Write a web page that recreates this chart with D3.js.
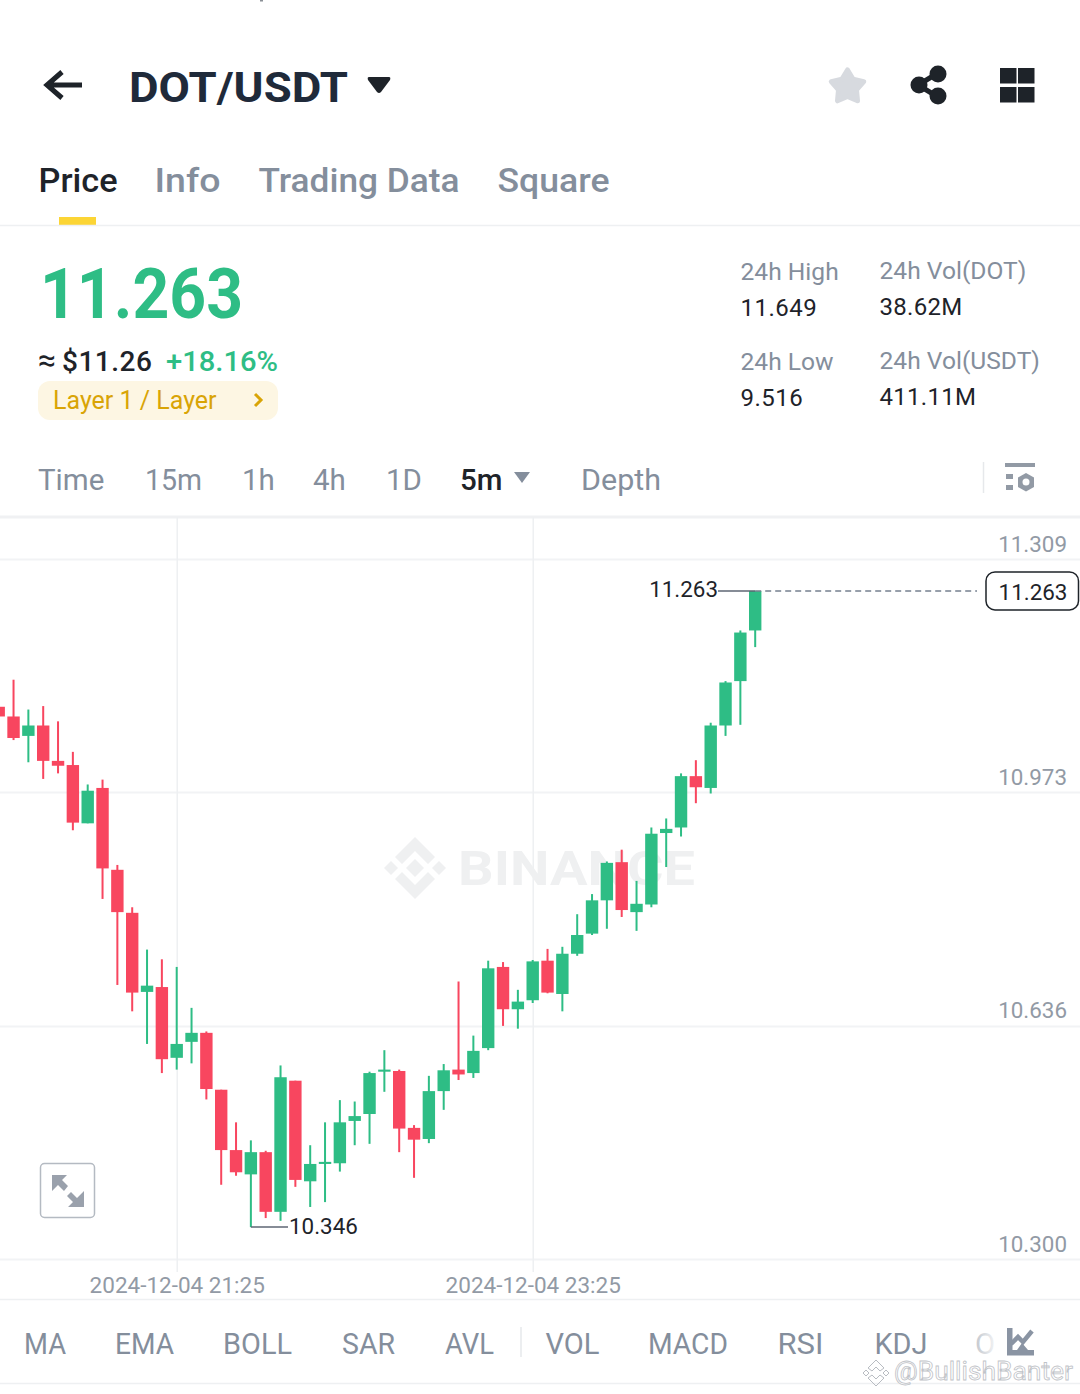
<!DOCTYPE html>
<html>
<head>
<meta charset="utf-8">
<script src="https://cdn.jsdelivr.net/npm/d3@7"></script>
<style>
  html, body { margin: 0; padding: 0; background: #fff; }
  svg { display: block; }
</style>
</head>
<body>
<svg></svg>
<script>
const width = 1080;
const height = 1394;

// DATA - 5m candles, first one opens 2024-12-04 20:25
const firstCandle = new Date(2024, 11, 4, 20, 25);
const opens = [
  11.096, 11.082, 11.054, 11.069, 11.018, 11.012, 10.928, 10.979, 10.861, 10.799, 10.685, 10.692, 10.590,
  10.613, 10.626, 10.544, 10.457, 10.422, 10.454, 10.368, 10.557, 10.412, 10.437, 10.438, 10.499, 10.509,
  10.570, 10.571, 10.489, 10.473, 10.542, 10.573, 10.568, 10.604, 10.721, 10.660, 10.673, 10.730, 10.682,
  10.740, 10.769, 10.817, 10.872, 10.800, 10.811, 10.914, 10.922, 10.996, 10.979, 11.069, 11.133, 11.206
];
const closes = [
  11.082, 11.051, 11.069, 11.018, 11.011, 10.929, 10.975, 10.863, 10.800, 10.684, 10.694, 10.588, 10.610,
  10.626, 10.545, 10.457, 10.425, 10.454, 10.368, 10.562, 10.414, 10.437, 10.440, 10.497, 10.506, 10.568,
  10.573, 10.488, 10.472, 10.542, 10.572, 10.566, 10.600, 10.719, 10.660, 10.671, 10.729, 10.684, 10.740,
  10.767, 10.817, 10.871, 10.803, 10.812, 10.913, 10.920, 10.996, 10.980, 11.069, 11.131, 11.203, 11.263
];
const highs = [
  11.096, 11.135, 11.092, 11.097, 11.075, 11.031, 10.984, 10.991, 10.868, 10.807, 10.746, 10.732, 10.721,
  10.662, 10.628, 10.544, 10.497, 10.471, 10.456, 10.579, 10.557, 10.464, 10.497, 10.529, 10.527, 10.570,
  10.601, 10.573, 10.493, 10.564, 10.581, 10.700, 10.622, 10.730, 10.728, 10.688, 10.731, 10.747, 10.750,
  10.797, 10.826, 10.873, 10.890, 10.845, 10.922, 10.935, 11.000, 11.019, 11.073, 11.133, 11.206, 11.263
];
const lows = [
  11.082, 11.048, 11.016, 10.992, 11.000, 10.918, 10.928, 10.819, 10.695, 10.657, 10.610, 10.568, 10.573,
  10.582, 10.530, 10.407, 10.420, 10.346, 10.359, 10.355, 10.404, 10.375, 10.382, 10.426, 10.464, 10.466,
  10.541, 10.454, 10.417, 10.467, 10.515, 10.558, 10.561, 10.601, 10.636, 10.632, 10.669, 10.683, 10.657,
  10.737, 10.767, 10.776, 10.793, 10.773, 10.807, 10.865, 10.909, 10.957, 10.971, 11.054, 11.070, 11.182
];
const priceTicks = [10.300, 10.636, 10.973, 11.309];
const timeTicks = [new Date(2024, 11, 4, 21, 25), new Date(2024, 11, 4, 23, 25)];
const lastPrice = 11.263;
const lowestPrice = 10.346;

const pageTabs = ['Price', 'Info', 'Trading Data', 'Square'];
const periods = ['Time', '15m', '1h', '4h', '1D', '5m', 'Depth'];
const indicators = ['MA', 'EMA', 'BOLL', 'SAR', 'AVL', 'VOL', 'MACD', 'RSI', 'KDJ'];

const candles = opens.map((open, i) => ({
  time: d3.timeMinute.offset(firstCandle, i * 5),
  open, close: closes[i], high: highs[i], low: lows[i]
}));

// COLOURS
const green = '#2EBD85';
const red = '#F8465F';
const ink = '#1E2329';
const navy = '#1F2A3A';
const slate = '#848E9C';
const axisGrey = '#929AA5';
const gridGrey = '#F2F3F5';
const FONT = 'Roboto, sans-serif';

const svg = d3.select('svg').attr('width', width).attr('height', height)
  .attr('font-family', FONT);

function label(text, x, y, size, fill, opts = {}) {
  const t = svg.append('text')
    .attr('x', x).attr('y', y)
    .attr('font-size', size)
    .attr('fill', fill)
    .attr('font-weight', opts.weight || 400)
    .attr('text-anchor', opts.anchor || 'start')
    .attr('letter-spacing', opts.spacing || 0)
    .text(text);
  if (opts.length) t.attr('textLength', opts.length).attr('lengthAdjust', 'spacingAndGlyphs');
  return t;
}

function rule(x1, y1, x2, y2, color, w) {
  return svg.append('line')
    .attr('x1', x1).attr('y1', y1).attr('x2', x2).attr('y2', y2)
    .attr('stroke', color).attr('stroke-width', w);
}

// HEADER
svg.append('rect').attr('x', 260).attr('y', 0).attr('width', 3).attr('height', 1.5).attr('fill', '#8A8F96');
svg.append('path')
  .attr('d', 'M82 85H48M62 72L47 85L62 98')
  .attr('fill', 'none').attr('stroke', ink).attr('stroke-width', 5);
label('DOT/USDT', 129, 102, 43, navy, { weight: 700, length: 219 });
svg.append('path')
  .attr('d', 'M369 77H389Q391 77 390 80L381 92Q379 94 377 92L368 80Q367 77 369 77Z')
  .attr('fill', ink);

svg.append('path')
  .attr('d', 'M0 -17L5.6 -7.7L16.2 -5.3L9 2.9L10 13.8L0 9.5L-10 13.8L-9 2.9L-16.2 -5.3L-5.6 -7.7Z')
  .attr('transform', 'translate(847.5,87)')
  .attr('fill', '#D7DADF').attr('stroke', '#D7DADF').attr('stroke-width', 5)
  .attr('stroke-linejoin', 'round');

svg.append('path')
  .attr('d', 'M938 73L918 85L938 97')
  .attr('fill', 'none').attr('stroke', ink).attr('stroke-width', 5);
[[919, 85], [938, 74], [938, 96]].forEach(([cx, cy]) => {
  svg.append('circle').attr('cx', cx).attr('cy', cy).attr('r', 8.5).attr('fill', ink);
});

[[1000, 68], [1018, 68], [1000, 87], [1018, 87]].forEach(([rx, ry]) => {
  svg.append('rect').attr('x', rx).attr('y', ry).attr('width', 16.5).attr('height', 15.5).attr('fill', ink);
});

// PAGE TABS
const tabX = [38.5, 154.5, 258.5, 497.5];
const tabW = [79, 66, 201, 112];
pageTabs.forEach((t, i) => {
  label(t, tabX[i], 192, 34, i === 0 ? ink : slate, { weight: 500, length: tabW[i] });
});
svg.append('rect').attr('x', 59).attr('y', 217).attr('width', 37).attr('height', 8).attr('fill', '#FCD535');
rule(0, 225.5, width, 225.5, '#EEF0F2', 1.5);

// PRICE BLOCK
label('11.263', 40, 318, 70, green, { weight: 700, length: 203 });
label('≈', 38, 371, 32, ink);
label('$11.26', 62, 371, 28, ink, { weight: 500, spacing: 0.5 });
label('+18.16%', 166, 371, 28, green, { weight: 500, length: 112 });
svg.append('rect')
  .attr('x', 38).attr('y', 381).attr('width', 240).attr('height', 39).attr('rx', 12)
  .attr('fill', '#FDF6E3');
label('Layer 1 / Layer', 53, 409, 25, '#D9A406');
svg.append('path')
  .attr('d', 'M255 394L261 400L255 406')
  .attr('fill', 'none').attr('stroke', '#D9A406').attr('stroke-width', 3);

// 24H STATS
label('24h High', 740.5, 280, 24.6, slate);
label('11.649', 740.5, 315.5, 24, ink, { spacing: 0.5 });
label('24h Low', 740.5, 370, 24.6, slate);
label('9.516', 740.5, 405.5, 24, ink, { spacing: 0.5 });
label('24h Vol(DOT)', 879.5, 279, 24.6, slate);
label('38.62M', 879.5, 314.5, 24, ink, { spacing: 0.3 });
label('24h Vol(USDT)', 879.5, 369, 24.6, slate);
label('411.11M', 879.5, 404.5, 24, ink, { spacing: 0.3 });

// PERIOD ROW
const periodX = [38, 145, 242, 313, 386, 460, 581];
periods.forEach((p, i) => {
  label(p, periodX[i], 490, 29.5, p === '5m' ? ink : slate, {
    weight: p === '5m' ? 500 : 400,
    length: p === 'Depth' ? 80 : p === '15m' ? 57 : 0
  });
});
svg.append('path').attr('d', 'M514 472H530L522 483Z').attr('fill', slate);
rule(983.5, 462, 983.5, 493, '#E6E8EB', 1.5);
rule(1005, 465, 1035, 465, axisGrey, 4);
svg.append('rect').attr('x', 1006).attr('y', 474).attr('width', 7).attr('height', 5).attr('fill', axisGrey);
svg.append('rect').attr('x', 1006).attr('y', 485).attr('width', 7).attr('height', 5).attr('fill', axisGrey);
svg.append('path')
  .attr('d', 'M1026 473L1034 477.5V487L1026 491.5L1018 487V477.5Z')
  .attr('fill', axisGrey);
svg.append('circle').attr('cx', 1026).attr('cy', 482).attr('r', 3.5).attr('fill', '#fff');
rule(0, 517, width, 517, '#F0F1F3', 3);

// SCALES
const xScale = d3.scaleTime()
  .domain(timeTicks)
  .range([176.7, 532.7]);
const yScale = d3.scaleLinear()
  .domain([priceTicks[0], priceTicks[3]])
  .range([1259, 559]);

// AXES & GRIDS
const xGrid = d3.axisBottom(xScale).tickValues(timeTicks)
  .tickSize(-755).tickSizeOuter(0)
  .tickPadding(5)
  .tickFormat(d3.timeFormat('%Y-%m-%d %H:%M'));
const yGrid = d3.axisLeft(yScale).tickValues(priceTicks)
  .tickSize(-width).tickSizeOuter(0).tickFormat('');
const yLabels = d3.axisLeft(yScale).tickValues(priceTicks)
  .tickSize(0).tickSizeOuter(0).tickPadding(0)
  .tickFormat(d3.format('.3f'));

svg.append('g').call(yGrid)
  .call(g => g.select('.domain').remove())
  .call(g => g.selectAll('.tick line').attr('stroke', gridGrey).attr('stroke-width', 2));

const xAxisG = svg.append('g')
  .attr('transform', 'translate(0,1272)')
  .call(xGrid)
  .call(g => g.select('.domain').remove())
  .call(g => g.selectAll('.tick line').attr('stroke', '#EEF0F2').attr('stroke-width', 1.5));
xAxisG.selectAll('text')
  .attr('fill', axisGrey).attr('font-size', 22.5).attr('font-family', FONT);

svg.append('g')
  .attr('transform', 'translate(1067,0)')
  .call(yLabels)
  .call(g => g.select('.domain').remove())
  .call(g => g.selectAll('text')
    .attr('fill', axisGrey).attr('font-size', 22.4).attr('font-family', FONT).attr('dy', -8));

rule(0, 1299.5, width, 1299.5, '#EEF0F2', 1.5);
rule(0, 1383.5, width, 1383.5, '#EEF0F2', 1.5);

// WATERMARK
const markColor = '#EFF0F1';
const logo = svg.append('g').attr('transform', 'translate(415,868)').attr('fill', markColor);
logo.append('path').attr('d', 'M0 -31L20 -11L13 -4L0 -17L-13 -4L-20 -11Z');
logo.append('path').attr('d', 'M0 31L20 11L13 4L0 17L-13 4L-20 11Z');
logo.append('path').attr('d', 'M0 -9L9 0L0 9L-9 0Z');
logo.append('path').attr('d', 'M-31 0L-24 -7L-17 0L-24 7Z');
logo.append('path').attr('d', 'M31 0L24 -7L17 0L24 7Z');
label('BINANCE', 458, 885, 49, markColor, { weight: 700, length: 237 });

// CANDLES
const bodyWidth = 12.4;
const isUp = d => d.close >= d.open;
const candleG = svg.append('g').selectAll('g')
  .data(candles)
  .enter()
  .append('g')
  .attr('fill', d => isUp(d) ? green : red);
candleG.append('rect')
  .attr('x', d => xScale(d.time) - 1)
  .attr('width', 2)
  .attr('y', d => yScale(d.high))
  .attr('height', d => yScale(d.low) - yScale(d.high));
candleG.append('rect')
  .attr('x', d => xScale(d.time) - bodyWidth / 2)
  .attr('width', bodyWidth)
  .attr('y', d => yScale(Math.max(d.open, d.close)))
  .attr('height', d => Math.max(yScale(Math.min(d.open, d.close)) - yScale(Math.max(d.open, d.close)), 2));

// PRICE MARKERS
const lastCandle = candles[candles.length - 1];
const lowCandle = candles.find(d => d.low === lowestPrice);
const lastY = yScale(lastPrice);
const lowY = yScale(lowestPrice);
const lastX = xScale(lastCandle.time);
const lowX = xScale(lowCandle.time);

rule(718, lastY, lastX, lastY, '#5E6673', 1.5);
label(d3.format('.3f')(lastPrice), 718, lastY + 6, 22.4, ink, { anchor: 'end' });
rule(lastX, lastY, 977, lastY, '#76808F', 1.5).attr('stroke-dasharray', '6 4');
svg.append('rect')
  .attr('x', 986).attr('y', lastY - 19).attr('width', 92.5).attr('height', 38).attr('rx', 9)
  .attr('fill', '#fff').attr('stroke', ink).attr('stroke-width', 1.5);
label(d3.format('.3f')(lastPrice), 1033, lastY + 9, 22.4, ink, { anchor: 'middle' });

rule(lowX, lowY, 288, lowY, '#5E6673', 1.5);
label(d3.format('.3f')(lowestPrice), 289, lowY + 7, 22.4, ink);

// EXPAND BUTTON
svg.append('rect')
  .attr('x', 40.5).attr('y', 1163.5).attr('width', 54).attr('height', 54).attr('rx', 4)
  .attr('fill', '#fff').attr('stroke', '#B4BAC2').attr('stroke-width', 1.5);
svg.append('path')
  .attr('d', 'M52 1175H67L62 1180L68 1186L64 1191L58 1185L52 1191Z')
  .attr('fill', '#9AA1AC');
svg.append('path')
  .attr('d', 'M84 1207H68L73 1202L67 1196L71 1192L77 1198L84 1191Z')
  .attr('fill', '#9AA1AC');

// INDICATOR ROW
const indicatorX = [24, 115, 223, 342, 445, 545.5, 648, 777.5, 874.5];
const indicatorW = [42, 59, 69, 53, 49, 54, 80, 46, 53];
indicators.forEach((t, i) => {
  label(t, indicatorX[i], 1354, 29.3, slate, { length: indicatorW[i] });
});
rule(521, 1327, 521, 1357, '#E6E8EB', 1.5);

const fade = svg.append('defs').append('linearGradient').attr('id', 'fade');
fade.append('stop').attr('offset', '0%').attr('stop-color', slate).attr('stop-opacity', 0.5);
fade.append('stop').attr('offset', '100%').attr('stop-color', slate).attr('stop-opacity', 0.1);
label('O', 975, 1354, 29.3, 'url(#fade)');

svg.append('path')
  .attr('d', 'M1007 1328H1012.5V1350H1034V1355.5H1007Z M1017 1350L1022 1343L1028 1350Z')
  .attr('fill', '#8A94A3');
svg.append('path')
  .attr('d', 'M1011 1344L1018 1337L1023 1342L1032 1331')
  .attr('fill', 'none').attr('stroke', '#8A94A3').attr('stroke-width', 4.5);

// AUTHOR TAG
const tag = svg.append('g')
  .attr('transform', 'translate(876,1373)')
  .attr('fill', 'none').attr('stroke', '#B8BCC2').attr('stroke-width', 1);
tag.append('path').attr('d', 'M0 -13L8 -5L4 -2L0 -6L-4 -2L-8 -5Z');
tag.append('path').attr('d', 'M0 13L8 5L4 2L0 6L-4 2L-8 5Z');
tag.append('path').attr('d', 'M-13 0L-10 -3L-7 0L-10 3Z');
tag.append('path').attr('d', 'M13 0L10 -3L7 0L10 3Z');
label('@BullishBanter', 894, 1380, 25.5, '#fff', { length: 179 })
  .attr('stroke', '#BFC3C8').attr('stroke-width', 0.8);
</script>
</body>
</html>
